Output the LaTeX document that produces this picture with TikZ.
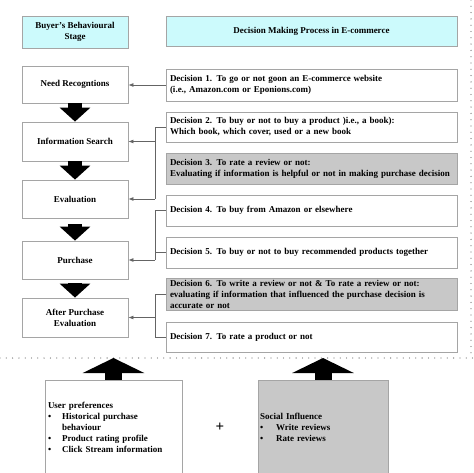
\documentclass[tikz,border=0pt]{standalone}
\usepackage{fontspec}
\setmainfont{Liberation Serif}
\usetikzlibrary{arrows.meta,calc}
\definecolor{hdr}{RGB}{204,250,252}
\definecolor{shade}{RGB}{200,200,200}
\definecolor{edge}{RGB}{165,165,165}
\definecolor{conncol}{RGB}{100,100,100}
\definecolor{dotcol}{RGB}{120,120,120}
\begin{document}
\begin{tikzpicture}[x=1pt,y=-1pt,
  box/.style={draw=edge, line width=0.8pt, fill=white, rectangle, inner sep=0pt,
    font=\fontsize{9}{11}\selectfont\bfseries},
  stage/.style={box, minimum width=106pt, align=center},
  dec/.style={box, minimum width=291pt, text width=283pt, align=left},
  conn/.style={draw=conncol, line width=0.8pt},
  arr/.style={conn, -{Latex[length=5pt,width=4pt]}},
  blkdown/.style={line width=14pt, black, -{Triangle[length=14pt,width=30pt]}},
  blkup/.style={line width=17pt, black, -{Triangle[length=15pt,width=61pt]}},
  dotline/.style={draw=dotcol, line width=1.3pt, dash pattern=on 0pt off 6.3pt, line cap=round}
]
\useasboundingbox (0,0) rectangle (474,473);

% headers
\node[stage, fill=hdr, minimum height=32pt] (hL) at (75,32) {Buyer’s Behavioural\\Stage};
\node[box, fill=hdr, minimum width=291pt, minimum height=30pt] (hR) at (311.5,31) {Decision Making Process in E-commerce};

% stages
\node[stage, minimum height=37pt] (need) at (75,84.5) {Need Recogntions};
\node[stage, minimum height=39pt] (info) at (75,141.5) {Information Search};
\node[stage, minimum height=38pt] (eval) at (75,199) {Evaluation};
\node[stage, minimum height=38pt] (purch) at (75,260) {Purchase};
\node[stage, minimum height=39pt] (after) at (75,317.5) {After Purchase\\Evaluation};

% decisions
\node[dec, minimum height=32pt] (d1) at (311.5,85) {Decision 1. To go or not goon an E-commerce website\\(i.e., Amazon.com or Eponions.com)};
\node[dec, minimum height=30pt] (d2) at (311.5,127) {Decision 2. To buy or not to buy a product )i.e., a book):\\Which book, which cover, used or a new book};
\node[dec, fill=shade, minimum height=31pt] (d3) at (311.5,168.5) {Decision 3. To rate a review or not:\\Evaluating if information is helpful or not in making purchase decision};
\node[dec, minimum height=31pt] (d4) at (311.5,210.5) {Decision 4. To buy from Amazon or elsewhere};
\node[dec, minimum height=31pt] (d5) at (311.5,252.5) {Decision 5. To buy or not to buy recommended products together};
\node[dec, fill=shade, minimum height=32pt] (d6) at (311.5,294) {Decision 6. To write a review or not \& To rate a review or not:\\evaluating if information that influenced the purchase decision is\\accurate or not};
\node[dec, minimum height=30pt] (d7) at (311.5,337) {Decision 7. To rate a product or not};

% connectors
\coordinate (jx) at (155,0);
\draw[arr] (d1.west) -- (need.east |- d1.west);
\draw[conn] (d2.west) -- (d2.west -| jx) -- (eval.east -| jx);
\draw[arr] (info.east -| jx) -- (info.east);
\draw[arr] (eval.east -| jx) -- (eval.east);
\draw[conn] (d4.west) -- (d4.west -| jx) -- (purch.east -| jx);
\draw[conn] (d5.west) -- (d5.west -| jx);
\draw[arr] (purch.east -| jx) -- (purch.east);
\draw[conn] (d6.west) -- (d6.west -| jx) -- (d7.west -| jx) -- (d7.west);
\draw[arr] (after.east -| jx) -- (after.east);

% block arrows between stages
\draw[blkdown] (need.south) -- (info.north);
\draw[blkdown] (info.south) -- (eval.north);
\draw[blkdown] ($(eval.south)+(0,6)$) -- (purch.north);
\draw[blkdown] ($(purch.south)+(0,4)$) -- (after.north);

% dotted lines
\coordinate (hlL) at (0,358);
\coordinate (hlR) at (474,358);
\coordinate (vlT) at (471,0);
\draw[dotline] (hlL) -- (hlR);
\draw[dotline] (vlT) -- (vlT |- hlL);

% bottom boxes
\node[box, minimum width=137pt, minimum height=96pt, text width=131pt, align=left] (user) at (113.5,428)
 {\begin{tabular}{@{}l@{\hspace{11pt}}l@{}}
  \multicolumn{2}{@{}l}{User preferences}\\
  \textbullet & Historical purchase\\
   & behaviour\\
  \textbullet & Product rating profile\\
  \textbullet & Click Stream information
  \end{tabular}};
\node[box, fill=shade, minimum width=130pt, minimum height=96pt, text width=126pt, align=left] (social) at (323,428)
 {\begin{tabular}{@{}l@{\hspace{13pt}}l@{}}
  \multicolumn{2}{@{}l}{Social Influence}\\
  \textbullet & Write reviews\\
  \textbullet & Rate reviews
  \end{tabular}};
\node[font=\fontsize{15}{15}\selectfont\bfseries] (plus) at (220,427) {+};

\draw[blkup] (user.north) -- (user.north |- hlL);
\draw[blkup] (social.north) -- (social.north |- hlL);
\end{tikzpicture}
\end{document}
